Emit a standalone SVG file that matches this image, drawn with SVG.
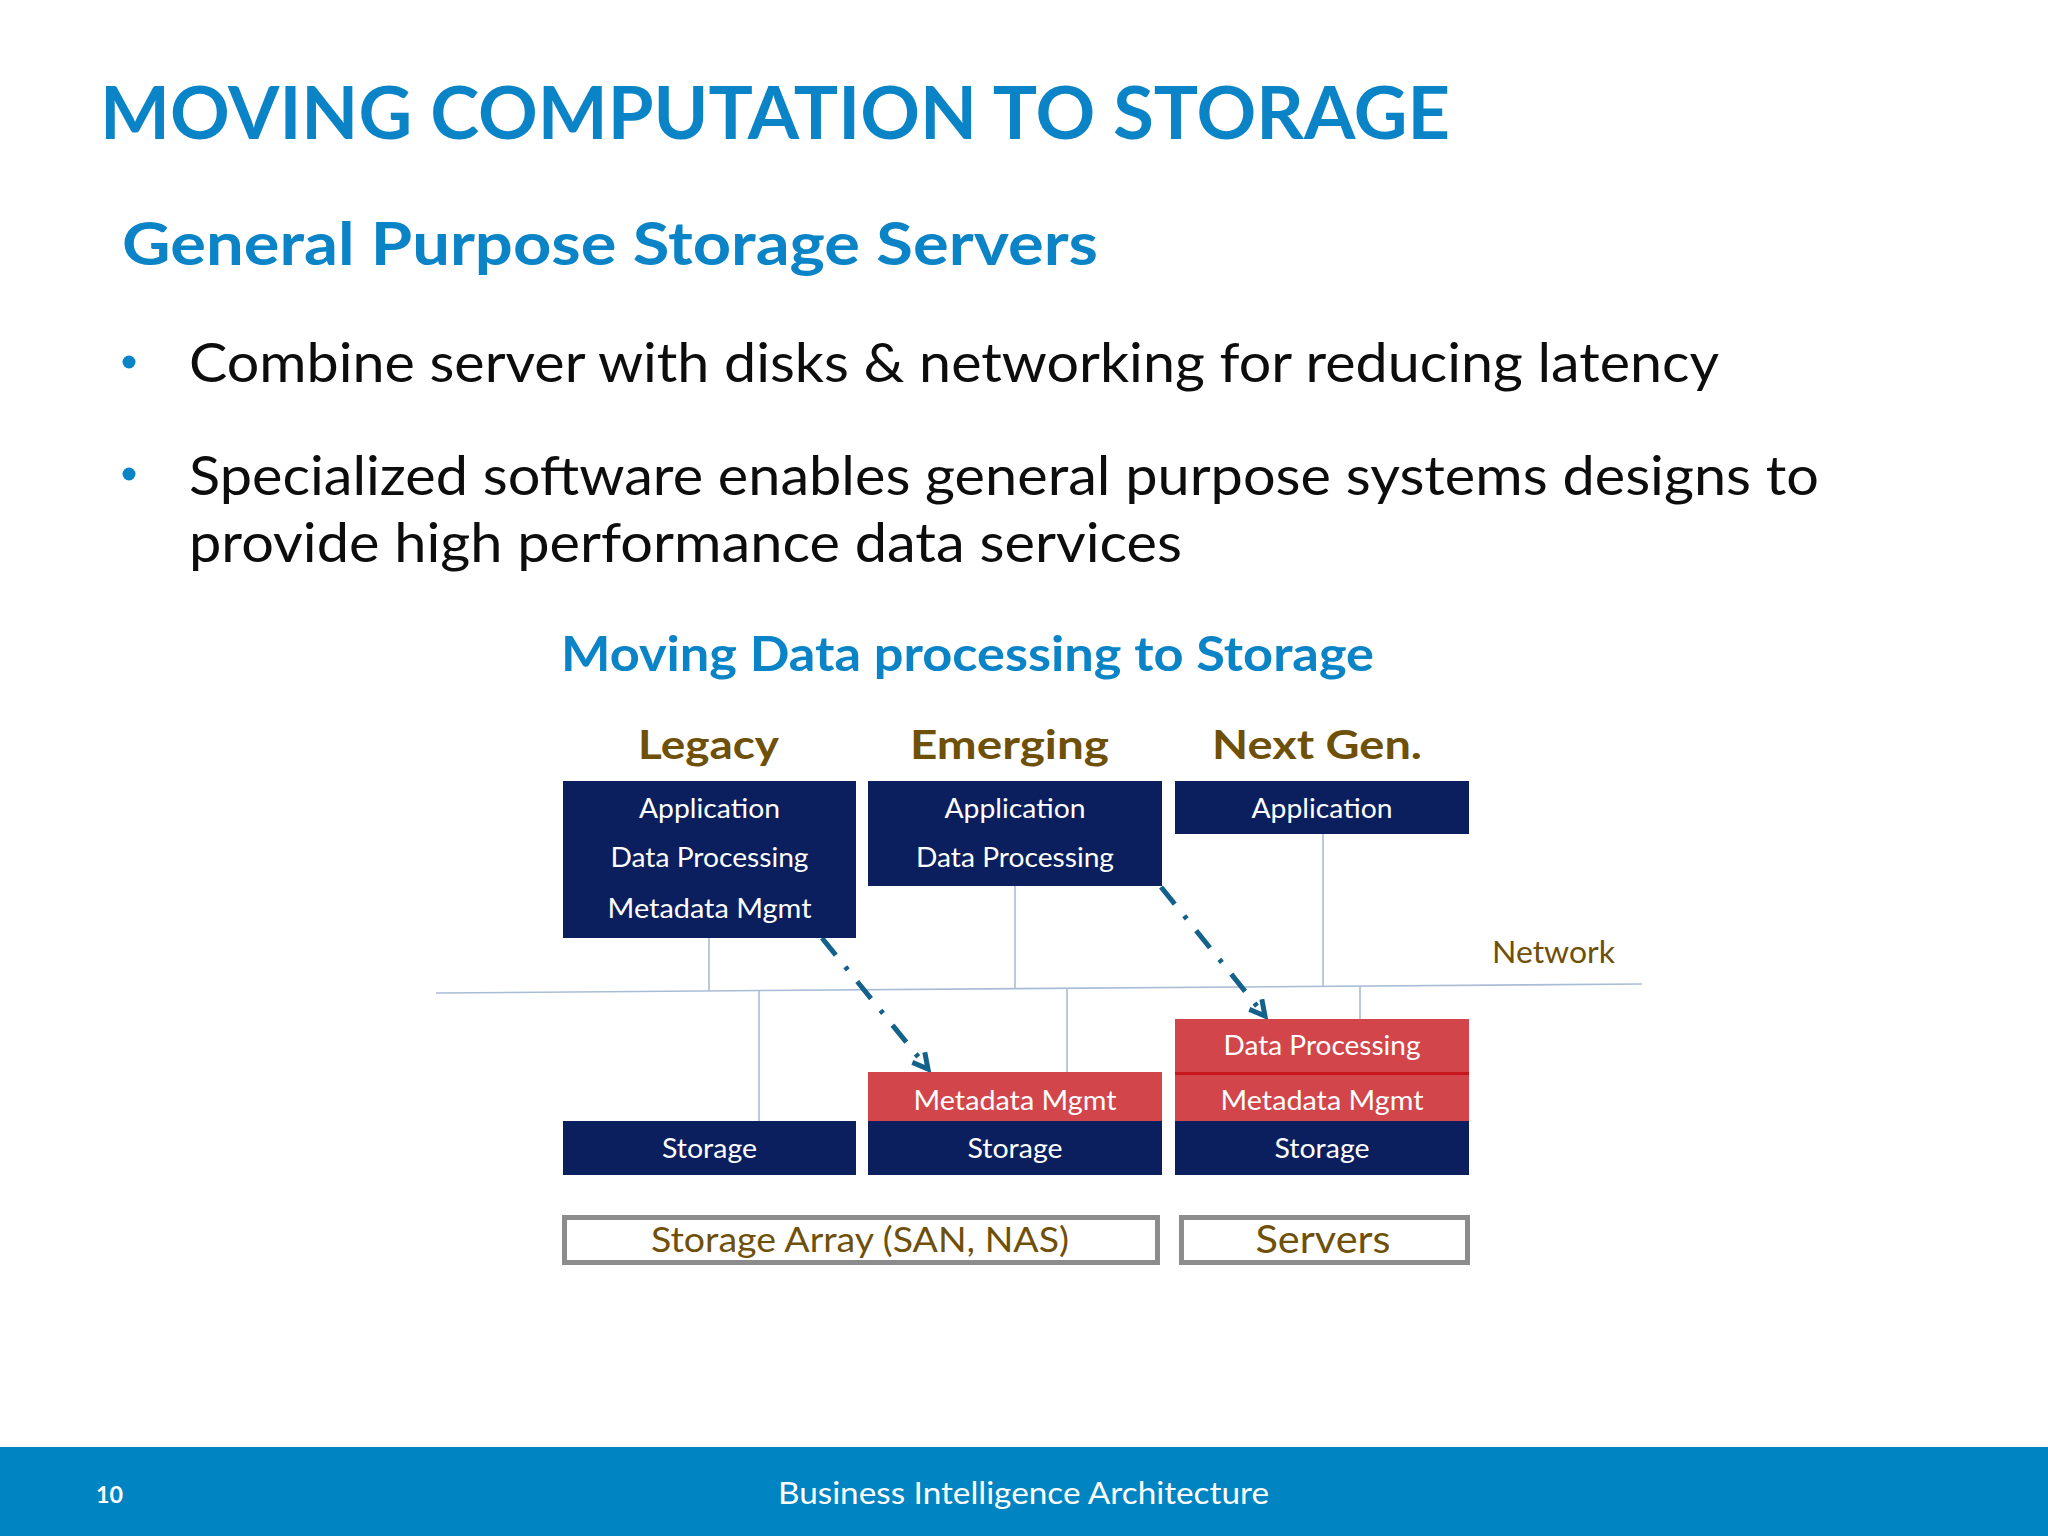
<svg xmlns="http://www.w3.org/2000/svg" width="2048" height="1536" viewBox="0 0 2048 1536">
<style>
text{font-family:Lato,"Open Sans","Liberation Sans",sans-serif}
.h{fill:#0a84c6;font-weight:700}
.body{fill:#0d0d0d;font-size:55px}
.hd{fill:#6e5008;font-weight:700;font-size:41px;text-anchor:middle}
.bx{fill:#ffffff;font-size:27px;text-anchor:middle}
.navy{fill:#0b1f5e}
.red{fill:#d2454a}
.conn{stroke:#a9bcd6;stroke-width:1.6;fill:none}
.arrow{stroke:#14628c;stroke-width:5;fill:none;stroke-dasharray:22 15 4 15}
.lbl{fill:#ffffff;stroke:#8c8c8c;stroke-width:5}
.lt{fill:#6e5008;text-anchor:middle}
</style>
<defs>
<marker id="ah" markerUnits="userSpaceOnUse" markerWidth="40" markerHeight="40" viewBox="-20 -20 40 40" refX="0" refY="0" orient="auto">
<path d="M -15 -8 L 0 0 L -15 8" fill="none" stroke="#14628c" stroke-width="5"/>
</marker>
</defs>
<rect x="0" y="0" width="2048" height="1536" fill="#ffffff"/>

<g id="title">
<text class="h" x="100" y="139" font-size="73" textLength="1350" lengthAdjust="spacingAndGlyphs">MOVING COMPUTATION TO STORAGE</text>
<text class="h" x="122" y="265" font-size="60" textLength="976" lengthAdjust="spacingAndGlyphs">General Purpose Storage Servers</text>
</g>

<g id="bullets">
<circle cx="129" cy="362" r="6.5" fill="#0a84c6"/>
<text class="body" x="189" y="382" textLength="1530" lengthAdjust="spacingAndGlyphs">Combine server with disks &amp; networking for reducing latency</text>
<circle cx="129" cy="474" r="6.5" fill="#0a84c6"/>
<text class="body" x="189" y="495" textLength="1630" lengthAdjust="spacingAndGlyphs">Specialized software enables general purpose systems designs to</text>
<text class="body" x="189" y="562" textLength="993" lengthAdjust="spacingAndGlyphs">provide high performance data services</text>
</g>

<g id="diagram-title">
<text class="h" x="561" y="671" font-size="48" textLength="813" lengthAdjust="spacingAndGlyphs">Moving Data processing to Storage</text>
</g>

<g id="headers">
<text class="hd" x="708.5" y="759" textLength="141" lengthAdjust="spacingAndGlyphs">Legacy</text>
<text class="hd" x="1009.5" y="759" textLength="199" lengthAdjust="spacingAndGlyphs">Emerging</text>
<text class="hd" x="1317" y="759" textLength="210" lengthAdjust="spacingAndGlyphs">Next Gen.</text>
</g>

<g id="connectors">
<path class="conn" d="M 436 993 L 1642 984"/>
<path class="conn" d="M 709 938 L 709 991"/>
<path class="conn" d="M 759 991 L 759 1121"/>
<path class="conn" d="M 1015 886 L 1015 989"/>
<path class="conn" d="M 1067 988 L 1067 1072"/>
<path class="conn" d="M 1323 834 L 1323 986"/>
<path class="conn" d="M 1360 986 L 1360 1019"/>
<path class="arrow" d="M 822 938 L 928 1069" marker-end="url(#ah)"/>
<path class="arrow" d="M 1161 887 L 1265 1016" marker-end="url(#ah)"/>
</g>

<g id="network-label">
<text x="1492" y="963" font-size="30" fill="#6e5008" textLength="123" lengthAdjust="spacingAndGlyphs">Network</text>
</g>

<g id="legacy-top">
<rect class="navy" x="563" y="781" width="293" height="157"/>
<text class="bx" x="709.5" y="818" textLength="141" lengthAdjust="spacingAndGlyphs">Application</text>
<text class="bx" x="709.5" y="867" textLength="198" lengthAdjust="spacingAndGlyphs">Data Processing</text>
<text class="bx" x="709.5" y="918" textLength="204" lengthAdjust="spacingAndGlyphs">Metadata Mgmt</text>
</g>

<g id="emerging-top">
<rect class="navy" x="868" y="781" width="294" height="105"/>
<text class="bx" x="1015" y="818" textLength="141" lengthAdjust="spacingAndGlyphs">Application</text>
<text class="bx" x="1015" y="867" textLength="198" lengthAdjust="spacingAndGlyphs">Data Processing</text>
</g>

<g id="nextgen-top">
<rect class="navy" x="1175" y="781" width="294" height="53"/>
<text class="bx" x="1322" y="818" textLength="141" lengthAdjust="spacingAndGlyphs">Application</text>
</g>

<g id="legacy-storage">
<rect class="navy" x="563" y="1121" width="293" height="54"/>
<text class="bx" x="709.5" y="1158" textLength="95" lengthAdjust="spacingAndGlyphs">Storage</text>
</g>

<g id="emerging-metadata">
<rect class="red" x="868" y="1072" width="294" height="49"/>
<text class="bx" x="1015" y="1110" textLength="203" lengthAdjust="spacingAndGlyphs">Metadata Mgmt</text>
</g>
<g id="emerging-storage">
<rect class="navy" x="868" y="1121" width="294" height="54"/>
<text class="bx" x="1015" y="1158" textLength="95" lengthAdjust="spacingAndGlyphs">Storage</text>
</g>

<g id="nextgen-dataproc">
<rect class="red" x="1175" y="1019" width="294" height="54"/>
<text class="bx" x="1322" y="1055" textLength="197" lengthAdjust="spacingAndGlyphs">Data Processing</text>
</g>
<g id="nextgen-metadata">
<rect class="red" x="1175" y="1073" width="294" height="48"/>
<line x1="1175" y1="1073.5" x2="1469" y2="1073.5" stroke="#c8161d" stroke-width="3"/>
<text class="bx" x="1322" y="1110" textLength="203" lengthAdjust="spacingAndGlyphs">Metadata Mgmt</text>
</g>
<g id="nextgen-storage">
<rect class="navy" x="1175" y="1121" width="294" height="54"/>
<text class="bx" x="1322" y="1158" textLength="95" lengthAdjust="spacingAndGlyphs">Storage</text>
</g>

<g id="storage-array">
<rect class="lbl" x="564.5" y="1217.5" width="593" height="45"/>
<text class="lt" x="860" y="1252" font-size="35" textLength="418" lengthAdjust="spacingAndGlyphs">Storage Array (SAN, NAS)</text>
</g>
<g id="servers">
<rect class="lbl" x="1181.5" y="1217.5" width="286" height="45"/>
<text class="lt" x="1323" y="1253" font-size="39" textLength="135" lengthAdjust="spacingAndGlyphs">Servers</text>
</g>

<g id="footer">
<rect x="0" y="1447" width="2048" height="89" fill="#0084c2"/>
<text x="96" y="1503" font-size="23" font-weight="700" fill="#ffffff" textLength="27" lengthAdjust="spacingAndGlyphs">10</text>
<text x="778" y="1504" font-size="30" fill="#ffffff" textLength="491" lengthAdjust="spacingAndGlyphs">Business Intelligence Architecture</text>
</g>
</svg>
